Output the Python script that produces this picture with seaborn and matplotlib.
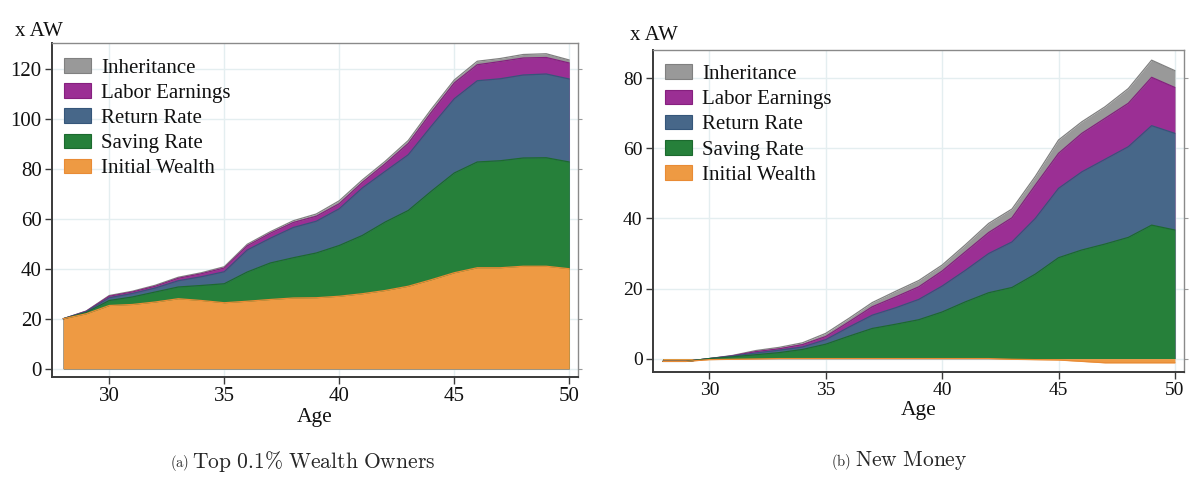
import matplotlib
matplotlib.use("Agg")
import matplotlib.pyplot as plt
import seaborn as sns
import numpy as np
import pandas as pd
from matplotlib.patches import Patch

sns.set_theme(style="whitegrid")
plt.rcParams["font.family"] = ["Liberation Serif", "DejaVu Serif"]
plt.rcParams["mathtext.fontset"] = "cm"

# -------------------------------------------------------------
# DATA (contribution of each component, in multiples of AW)
# -------------------------------------------------------------
ages = list(range(28, 51))
components = ["Initial Wealth", "Saving Rate", "Return Rate",
              "Labor Earnings", "Inheritance"]

# (a) Top 0.1% Wealth Owners
top_initial = [20, 22, 25.3, 25.7, 26.7, 28, 27.3, 26.4, 27, 27.7, 28.3, 28.4,
               29, 30, 31.3, 33, 35.6, 38.4, 40.4, 40.4, 41, 41, 40]
top_saving = [0, 0.5, 2, 3, 4, 4.7, 6, 7.6, 11.7, 14.6, 16.1, 17.9,
              20.3, 23.3, 27.4, 30.3, 35.4, 39.9, 42.3, 42.8, 43.3, 43.4, 42.7]
top_return = [0, 0.3, 1.1, 1.4, 1.6, 2.5, 3.5, 4.8, 8.8, 9.9, 12.1, 12.7,
              14.7, 19, 20.3, 22.3, 26, 29.7, 32.5, 32.8, 33.2, 33.5, 33.2]
top_labor = [0, 0.2, 0.6, 0.6, 0.7, 1.0, 1.2, 1.5, 1.7, 2.0, 2.0, 2.0,
             2.0, 2.2, 3.0, 4.5, 5.5, 6.3, 6.4, 6.9, 6.8, 6.6, 6.4]
top_inherit = [0, 0.1, 0.3, 0.3, 0.4, 0.4, 0.4, 0.5, 0.6, 0.6, 0.7, 0.9,
               1.2, 1.0, 1.0, 1.2, 1.3, 1.2, 1.4, 1.2, 1.4, 1.5, 1.2]

# (b) New Money
new_initial = [-0.8, -0.8, -0.3, -0.2, -0.1, 0, 0, 0, 0, 0, 0, 0,
               0, 0, 0, -0.2, -0.3, -0.4, -0.8, -1.2, -1.2, -1.2, -1.2]
new_saving = [0, 0, 0.3, 0.7, 1.2, 1.7, 2.6, 4.1, 6.4, 8.6, 9.8, 11.1,
              13.3, 16.2, 18.8, 20.5, 24.4, 29.2, 31.8, 33.9, 35.8, 39.3, 37.9]
new_return = [0, 0, 0, 0.2, 0.5, 0.7, 0.7, 1.3, 2.6, 3.8, 4.7, 5.8,
              7.4, 9, 11.2, 13, 15.9, 19.8, 22.3, 24.2, 25.9, 28.4, 27.6]
new_labor = [0, 0, 0, 0.1, 0.4, 0.4, 0.7, 0.9, 1.5, 2.4, 3.1, 3.6,
             4.3, 5.3, 6, 6.9, 9.5, 10, 11, 11.7, 12.4, 13.8, 13.1]
new_inherit = [0, 0, 0, 0.1, 0.3, 0.4, 0.5, 0.9, 1, 1.2, 1.6, 1.8,
               1.7, 2, 2.6, 2.5, 2.5, 3.8, 3.3, 3.3, 4.2, 4.9, 4.8]

fill_colors = {"Initial Wealth": "#ee9a43", "Saving Rate": "#26803a",
               "Return Rate": "#476789", "Labor Earnings": "#9b2f94",
               "Inheritance": "#999999"}
edge_colors = {"Initial Wealth": "#e98b35", "Saving Rate": "#1c6a2e",
               "Return Rate": "#35567a", "Labor Earnings": "#86207f",
               "Inheritance": "#808080"}

df_top = pd.DataFrame({"Age": ages, "Initial Wealth": top_initial,
                       "Saving Rate": top_saving, "Return Rate": top_return,
                       "Labor Earnings": top_labor, "Inheritance": top_inherit})
df_new = pd.DataFrame({"Age": ages, "Initial Wealth": new_initial,
                       "Saving Rate": new_saving, "Return Rate": new_return,
                       "Labor Earnings": new_labor, "Inheritance": new_inherit})


def plot_decomposition(ax, df, yticks, tick_size):
    """Stacked areas, each filled from zero to its cumulative level."""
    cum = df[components].cumsum(axis=1)
    for comp in reversed(components):
        ax.fill_between(df["Age"], 0, cum[comp], color=fill_colors[comp],
                        linewidth=0, zorder=2)
        sns.lineplot(x=df["Age"], y=cum[comp], color=edge_colors[comp],
                     linewidth=0.9, ax=ax, zorder=3)

    ax.set_xticks([30, 35, 40, 45, 50])
    ax.set_yticks(yticks)
    ax.set_ylabel("")
    ax.set_xlabel("Age", fontsize=15.5, labelpad=1, color="#111111")
    ax.grid(True, color="#e4eef0", linewidth=1)
    ax.set_axisbelow(True)
    for side in ["left", "bottom"]:
        ax.spines[side].set_color("#3a3a3a")
        ax.spines[side].set_linewidth(1.4)
    for side in ["top", "right"]:
        ax.spines[side].set_color("#8a8a8a")
        ax.spines[side].set_linewidth(1.0)
    ax.tick_params(axis="both", which="major", bottom=True, left=True,
                   direction="out", length=5, width=1, color="#3a3a3a",
                   pad=2.5, labelsize=tick_size, labelcolor="#111111")

    # short marks on the right frame
    sec = ax.secondary_yaxis("right")
    sec.set_yticks(yticks)
    sec.tick_params(length=3, width=0.8, color="#9a9a9a", labelright=False,
                    right=True, direction="out")
    sec.spines["right"].set_visible(False)

    handles = [Patch(facecolor=fill_colors[c], edgecolor=edge_colors[c],
                     linewidth=0.8, label=c) for c in reversed(components)]
    ax.legend(handles=handles, loc="upper left", frameon=False,
              fontsize=15, handlelength=1.3, handleheight=0.7,
              handletextpad=0.5, labelspacing=0.27, borderpad=0,
              borderaxespad=0, bbox_to_anchor=(0.022, 0.955),
              labelcolor="#111111")


fig = plt.figure(figsize=(11.99, 4.83), dpi=100)
W, H = 1199, 483
ax1 = fig.add_axes([52 / W, 1 - 377 / H, 526 / W, 334 / H])
ax2 = fig.add_axes([653 / W, 1 - 372 / H, 531 / W, 322 / H])

plot_decomposition(ax1, df_top, [0, 20, 40, 60, 80, 100, 120], 15)
ax1.set_xlim(27.51, 50.38)
ax1.set_ylim(-3.3, 130.3)

plot_decomposition(ax2, df_new, [0, 20, 40, 60, 80], 14)
ax2.set_xlim(27.58, 50.39)
ax2.set_ylim(-3.83, 88.1)

fig.text(15 / W, 1 - 31.7 / H, "x AW", ha="left", va="center",
         fontsize=15, color="#111111")
fig.text(630 / W, 1 - 36 / H, "x AW", ha="left", va="center",
         fontsize=15, color="#111111")

# captions
cap_a = fig.text(314 / W, 1 - 461 / H,
                 r"$\mathrm{Top\ 0.1\%\ Wealth\ Owners}$",
                 ha="center", va="center", fontsize=15.5)
ax1.annotate(r"$\mathrm{(a)}$", xy=(0, 0), xycoords=cap_a,
             xytext=(-2.5, 0.5), textcoords="offset points",
             ha="right", va="bottom", fontsize=10.5, annotation_clip=False)

cap_b = fig.text(911 / W, 1 - 461 / H, r"$\mathrm{New\ Money}$",
                 ha="center", va="center", fontsize=15.5)
ax2.annotate(r"$\mathrm{(b)}$", xy=(0, 0), xycoords=cap_b,
             xytext=(-2.5, 0.5), textcoords="offset points",
             ha="right", va="bottom", fontsize=10.5, annotation_clip=False)

fig.savefig("out.png", dpi=100)
